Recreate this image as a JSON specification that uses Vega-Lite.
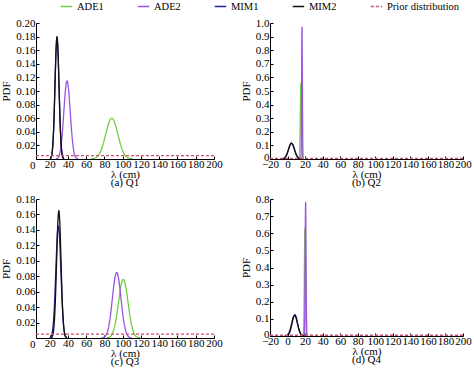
{
"$schema": "https://vega.github.io/schema/vega-lite/v6.json",
"padding": {"left": 0, "top": 0, "right": 0, "bottom": 0},
"spacing": 5,
"config": {
  "font": "Times",
  "view": {"stroke": null},
  "axis": {"labelFont": "Times", "titleFont": "Times", "labelFontSize": 11, "titleFontSize": 11, "titleFontWeight": "normal", "grid": false, "domainColor": "black", "tickColor": "black", "labelColor": "black", "titleColor": "black", "tickSize": -3, "labelFlush": false, "labelOverlap": false},
  "axisX": {"labelPadding": 2, "titlePadding": -1},
  "axisY": {"labelPadding": 4, "titlePadding": 4},
  "title": {"font": "Times", "fontSize": 11, "fontWeight": "normal", "orient": "bottom", "offset": -2, "color": "black"},
  "legend": {"orient": "none", "legendX": 24, "legendY": -23, "direction": "horizontal", "symbolType": "stroke", "symbolSize": 130, "symbolStrokeWidth": 1.5, "labelFont": "Times", "labelFontSize": 10.5, "labelColor": "black", "columnPadding": 30, "labelOffset": 4, "labelLimit": 200}
},
"data": {"values": [
{"p":"a","s":"ADE1","x":64.7,"y":0.0001},{"p":"a","s":"ADE1","x":68.05,"y":0.0007},{"p":"a","s":"ADE1","x":71.4,"y":0.0026},{"p":"a","s":"ADE1","x":74.7,"y":0.0081},{"p":"a","s":"ADE1","x":78.0,"y":0.0195},{"p":"a","s":"ADE1","x":81.35,"y":0.0364},{"p":"a","s":"ADE1","x":84.7,"y":0.053},{"p":"a","s":"ADE1","x":88,"y":0.06},{"p":"a","s":"ADE1","x":91.3,"y":0.053},{"p":"a","s":"ADE1","x":94.65,"y":0.0364},{"p":"a","s":"ADE1","x":98.0,"y":0.0195},{"p":"a","s":"ADE1","x":101.3,"y":0.0081},{"p":"a","s":"ADE1","x":104.6,"y":0.0026},{"p":"a","s":"ADE1","x":107.95,"y":0.0007},{"p":"a","s":"ADE1","x":111.3,"y":0.0001},
{"p":"a","s":"ADE2","x":26.85,"y":0.0003},{"p":"a","s":"ADE2","x":28.59,"y":0.0013},{"p":"a","s":"ADE2","x":30.33,"y":0.005},{"p":"a","s":"ADE2","x":32.06,"y":0.0156},{"p":"a","s":"ADE2","x":33.8,"y":0.0373},{"p":"a","s":"ADE2","x":35.53,"y":0.0697},{"p":"a","s":"ADE2","x":37.27,"y":0.1015},{"p":"a","s":"ADE2","x":39,"y":0.115},{"p":"a","s":"ADE2","x":40.74,"y":0.1015},{"p":"a","s":"ADE2","x":42.47,"y":0.0697},{"p":"a","s":"ADE2","x":44.21,"y":0.0373},{"p":"a","s":"ADE2","x":45.94,"y":0.0156},{"p":"a","s":"ADE2","x":47.68,"y":0.005},{"p":"a","s":"ADE2","x":49.41,"y":0.0013},{"p":"a","s":"ADE2","x":51.15,"y":0.0003},
{"p":"a","s":"MIM1","x":20.3,"y":0.0004},{"p":"a","s":"MIM1","x":21.4,"y":0.002},{"p":"a","s":"MIM1","x":22.5,"y":0.0078},{"p":"a","s":"MIM1","x":23.6,"y":0.0241},{"p":"a","s":"MIM1","x":24.7,"y":0.0578},{"p":"a","s":"MIM1","x":25.8,"y":0.108},{"p":"a","s":"MIM1","x":26.9,"y":0.1571},{"p":"a","s":"MIM1","x":28,"y":0.178},{"p":"a","s":"MIM1","x":29.1,"y":0.1571},{"p":"a","s":"MIM1","x":30.2,"y":0.108},{"p":"a","s":"MIM1","x":31.3,"y":0.0578},{"p":"a","s":"MIM1","x":32.4,"y":0.0241},{"p":"a","s":"MIM1","x":33.5,"y":0.0078},{"p":"a","s":"MIM1","x":34.6,"y":0.002},{"p":"a","s":"MIM1","x":35.7,"y":0.0004},
{"p":"a","s":"MIM2","x":20.3,"y":0.0004},{"p":"a","s":"MIM2","x":21.4,"y":0.002},{"p":"a","s":"MIM2","x":22.5,"y":0.0079},{"p":"a","s":"MIM2","x":23.6,"y":0.0244},{"p":"a","s":"MIM2","x":24.7,"y":0.0584},{"p":"a","s":"MIM2","x":25.8,"y":0.1092},{"p":"a","s":"MIM2","x":26.9,"y":0.1589},{"p":"a","s":"MIM2","x":28,"y":0.18},{"p":"a","s":"MIM2","x":29.1,"y":0.1589},{"p":"a","s":"MIM2","x":30.2,"y":0.1092},{"p":"a","s":"MIM2","x":31.3,"y":0.0584},{"p":"a","s":"MIM2","x":32.4,"y":0.0244},{"p":"a","s":"MIM2","x":33.5,"y":0.0079},{"p":"a","s":"MIM2","x":34.6,"y":0.002},{"p":"a","s":"MIM2","x":35.7,"y":0.0004},
{"p":"a","s":"Prior distribution","x":5,"y":0.005},{"p":"a","s":"Prior distribution","x":200,"y":0.005},
{"p":"b","s":"ADE1","x":12.85,"y":0.0012},{"p":"b","s":"ADE1","x":13.2,"y":0.0062},{"p":"b","s":"ADE1","x":13.55,"y":0.0246},{"p":"b","s":"ADE1","x":13.9,"y":0.0758},{"p":"b","s":"ADE1","x":14.25,"y":0.1818},{"p":"b","s":"ADE1","x":14.6,"y":0.3396},{"p":"b","s":"ADE1","x":14.95,"y":0.4942},{"p":"b","s":"ADE1","x":15.3,"y":0.56},{"p":"b","s":"ADE1","x":15.65,"y":0.4942},{"p":"b","s":"ADE1","x":16.0,"y":0.3396},{"p":"b","s":"ADE1","x":16.35,"y":0.1818},{"p":"b","s":"ADE1","x":16.7,"y":0.0758},{"p":"b","s":"ADE1","x":17.05,"y":0.0246},{"p":"b","s":"ADE1","x":17.4,"y":0.0062},{"p":"b","s":"ADE1","x":17.75,"y":0.0012},
{"p":"b","s":"ADE2","x":15.065,"y":0.0021},{"p":"b","s":"ADE2","x":15.27,"y":0.0108},{"p":"b","s":"ADE2","x":15.475,"y":0.0426},{"p":"b","s":"ADE2","x":15.68,"y":0.1312},{"p":"b","s":"ADE2","x":15.885,"y":0.315},{"p":"b","s":"ADE2","x":16.09,"y":0.5883},{"p":"b","s":"ADE2","x":16.295,"y":0.856},{"p":"b","s":"ADE2","x":16.5,"y":0.97},{"p":"b","s":"ADE2","x":16.705,"y":0.856},{"p":"b","s":"ADE2","x":16.91,"y":0.5883},{"p":"b","s":"ADE2","x":17.115,"y":0.315},{"p":"b","s":"ADE2","x":17.32,"y":0.1312},{"p":"b","s":"ADE2","x":17.525,"y":0.0426},{"p":"b","s":"ADE2","x":17.73,"y":0.0108},{"p":"b","s":"ADE2","x":17.935,"y":0.0021},
{"p":"b","s":"MIM1","x":-7.4,"y":0.0003},{"p":"b","s":"MIM1","x":-5.7,"y":0.0013},{"p":"b","s":"MIM1","x":-4.0,"y":0.005},{"p":"b","s":"MIM1","x":-2.3,"y":0.0156},{"p":"b","s":"MIM1","x":-0.6,"y":0.0373},{"p":"b","s":"MIM1","x":1.1,"y":0.0697},{"p":"b","s":"MIM1","x":2.8,"y":0.1015},{"p":"b","s":"MIM1","x":4.5,"y":0.115},{"p":"b","s":"MIM1","x":6.2,"y":0.1015},{"p":"b","s":"MIM1","x":7.9,"y":0.0697},{"p":"b","s":"MIM1","x":9.6,"y":0.0373},{"p":"b","s":"MIM1","x":11.3,"y":0.0156},{"p":"b","s":"MIM1","x":13.0,"y":0.005},{"p":"b","s":"MIM1","x":14.7,"y":0.0013},{"p":"b","s":"MIM1","x":16.4,"y":0.0003},
{"p":"b","s":"MIM2","x":-7.4,"y":0.0003},{"p":"b","s":"MIM2","x":-5.7,"y":0.0013},{"p":"b","s":"MIM2","x":-4.0,"y":0.0051},{"p":"b","s":"MIM2","x":-2.3,"y":0.0158},{"p":"b","s":"MIM2","x":-0.6,"y":0.038},{"p":"b","s":"MIM2","x":1.1,"y":0.071},{"p":"b","s":"MIM2","x":2.8,"y":0.1033},{"p":"b","s":"MIM2","x":4.5,"y":0.117},{"p":"b","s":"MIM2","x":6.2,"y":0.1033},{"p":"b","s":"MIM2","x":7.9,"y":0.071},{"p":"b","s":"MIM2","x":9.6,"y":0.038},{"p":"b","s":"MIM2","x":11.3,"y":0.0158},{"p":"b","s":"MIM2","x":13.0,"y":0.0051},{"p":"b","s":"MIM2","x":14.7,"y":0.0013},{"p":"b","s":"MIM2","x":16.4,"y":0.0003},
{"p":"b","s":"Prior distribution","x":-20,"y":0.0045},{"p":"b","s":"Prior distribution","x":200,"y":0.0045},
{"p":"c","s":"ADE1","x":82.225,"y":0.0002},{"p":"c","s":"ADE1","x":84.85,"y":0.0008},{"p":"c","s":"ADE1","x":87.475,"y":0.0033},{"p":"c","s":"ADE1","x":90.1,"y":0.0103},{"p":"c","s":"ADE1","x":92.725,"y":0.0247},{"p":"c","s":"ADE1","x":95.35,"y":0.0461},{"p":"c","s":"ADE1","x":97.975,"y":0.0671},{"p":"c","s":"ADE1","x":100.6,"y":0.076},{"p":"c","s":"ADE1","x":103.225,"y":0.0671},{"p":"c","s":"ADE1","x":105.85,"y":0.0461},{"p":"c","s":"ADE1","x":108.475,"y":0.0247},{"p":"c","s":"ADE1","x":111.1,"y":0.0103},{"p":"c","s":"ADE1","x":113.725,"y":0.0033},{"p":"c","s":"ADE1","x":116.35,"y":0.0008},{"p":"c","s":"ADE1","x":118.975,"y":0.0002},
{"p":"c","s":"ADE2","x":76.985,"y":0.0002},{"p":"c","s":"ADE2","x":79.33,"y":0.0009},{"p":"c","s":"ADE2","x":81.675,"y":0.0037},{"p":"c","s":"ADE2","x":84.02,"y":0.0115},{"p":"c","s":"ADE2","x":86.365,"y":0.0276},{"p":"c","s":"ADE2","x":88.71,"y":0.0516},{"p":"c","s":"ADE2","x":91.055,"y":0.075},{"p":"c","s":"ADE2","x":93.4,"y":0.085},{"p":"c","s":"ADE2","x":95.745,"y":0.075},{"p":"c","s":"ADE2","x":98.09,"y":0.0516},{"p":"c","s":"ADE2","x":100.435,"y":0.0276},{"p":"c","s":"ADE2","x":102.78,"y":0.0115},{"p":"c","s":"ADE2","x":105.125,"y":0.0037},{"p":"c","s":"ADE2","x":107.47,"y":0.0009},{"p":"c","s":"ADE2","x":109.815,"y":0.0002},
{"p":"c","s":"MIM1","x":19.875,"y":0.0003},{"p":"c","s":"MIM1","x":21.25,"y":0.0016},{"p":"c","s":"MIM1","x":22.625,"y":0.0064},{"p":"c","s":"MIM1","x":24.0,"y":0.0196},{"p":"c","s":"MIM1","x":25.375,"y":0.0471},{"p":"c","s":"MIM1","x":26.75,"y":0.0879},{"p":"c","s":"MIM1","x":28.125,"y":0.128},{"p":"c","s":"MIM1","x":29.5,"y":0.145},{"p":"c","s":"MIM1","x":30.875,"y":0.128},{"p":"c","s":"MIM1","x":32.25,"y":0.0879},{"p":"c","s":"MIM1","x":33.625,"y":0.0471},{"p":"c","s":"MIM1","x":35.0,"y":0.0196},{"p":"c","s":"MIM1","x":36.375,"y":0.0064},{"p":"c","s":"MIM1","x":37.75,"y":0.0016},{"p":"c","s":"MIM1","x":39.125,"y":0.0003},
{"p":"c","s":"MIM2","x":21.53,"y":0.0004},{"p":"c","s":"MIM2","x":22.74,"y":0.0018},{"p":"c","s":"MIM2","x":23.95,"y":0.0072},{"p":"c","s":"MIM2","x":25.16,"y":0.0223},{"p":"c","s":"MIM2","x":26.37,"y":0.0536},{"p":"c","s":"MIM2","x":27.58,"y":0.1001},{"p":"c","s":"MIM2","x":28.79,"y":0.1456},{"p":"c","s":"MIM2","x":30,"y":0.165},{"p":"c","s":"MIM2","x":31.21,"y":0.1456},{"p":"c","s":"MIM2","x":32.42,"y":0.1001},{"p":"c","s":"MIM2","x":33.63,"y":0.0536},{"p":"c","s":"MIM2","x":34.84,"y":0.0223},{"p":"c","s":"MIM2","x":36.05,"y":0.0072},{"p":"c","s":"MIM2","x":37.26,"y":0.0018},{"p":"c","s":"MIM2","x":38.47,"y":0.0004},
{"p":"c","s":"Prior distribution","x":5,"y":0.005},{"p":"c","s":"Prior distribution","x":200,"y":0.005},
{"p":"d","s":"ADE1","x":17.595,"y":0.0014},{"p":"d","s":"ADE1","x":17.91,"y":0.007},{"p":"d","s":"ADE1","x":18.225,"y":0.0277},{"p":"d","s":"ADE1","x":18.54,"y":0.0852},{"p":"d","s":"ADE1","x":18.855,"y":0.2046},{"p":"d","s":"ADE1","x":19.17,"y":0.3821},{"p":"d","s":"ADE1","x":19.485,"y":0.556},{"p":"d","s":"ADE1","x":19.8,"y":0.63},{"p":"d","s":"ADE1","x":20.115,"y":0.556},{"p":"d","s":"ADE1","x":20.43,"y":0.3821},{"p":"d","s":"ADE1","x":20.745,"y":0.2046},{"p":"d","s":"ADE1","x":21.06,"y":0.0852},{"p":"d","s":"ADE1","x":21.375,"y":0.0277},{"p":"d","s":"ADE1","x":21.69,"y":0.007},{"p":"d","s":"ADE1","x":22.005,"y":0.0014},
{"p":"d","s":"ADE2","x":18.815,"y":0.0017},{"p":"d","s":"ADE2","x":19.07,"y":0.0087},{"p":"d","s":"ADE2","x":19.325,"y":0.0342},{"p":"d","s":"ADE2","x":19.58,"y":0.1055},{"p":"d","s":"ADE2","x":19.835,"y":0.2533},{"p":"d","s":"ADE2","x":20.09,"y":0.4731},{"p":"d","s":"ADE2","x":20.345,"y":0.6884},{"p":"d","s":"ADE2","x":20.6,"y":0.78},{"p":"d","s":"ADE2","x":20.855,"y":0.6884},{"p":"d","s":"ADE2","x":21.11,"y":0.4731},{"p":"d","s":"ADE2","x":21.365,"y":0.2533},{"p":"d","s":"ADE2","x":21.62,"y":0.1055},{"p":"d","s":"ADE2","x":21.875,"y":0.0342},{"p":"d","s":"ADE2","x":22.13,"y":0.0087},{"p":"d","s":"ADE2","x":22.385,"y":0.0017},
{"p":"d","s":"MIM1","x":-2.55,"y":0.0003},{"p":"d","s":"MIM1","x":-1.0,"y":0.0014},{"p":"d","s":"MIM1","x":0.55,"y":0.0055},{"p":"d","s":"MIM1","x":2.1,"y":0.0169},{"p":"d","s":"MIM1","x":3.65,"y":0.0406},{"p":"d","s":"MIM1","x":5.2,"y":0.0758},{"p":"d","s":"MIM1","x":6.75,"y":0.1103},{"p":"d","s":"MIM1","x":8.3,"y":0.125},{"p":"d","s":"MIM1","x":9.85,"y":0.1103},{"p":"d","s":"MIM1","x":11.4,"y":0.0758},{"p":"d","s":"MIM1","x":12.95,"y":0.0406},{"p":"d","s":"MIM1","x":14.5,"y":0.0169},{"p":"d","s":"MIM1","x":16.05,"y":0.0055},{"p":"d","s":"MIM1","x":17.6,"y":0.0014},{"p":"d","s":"MIM1","x":19.15,"y":0.0003},
{"p":"d","s":"MIM2","x":-3.55,"y":0.0003},{"p":"d","s":"MIM2","x":-1.9,"y":0.0013},{"p":"d","s":"MIM2","x":-0.25,"y":0.0053},{"p":"d","s":"MIM2","x":1.4,"y":0.0162},{"p":"d","s":"MIM2","x":3.05,"y":0.039},{"p":"d","s":"MIM2","x":4.7,"y":0.0728},{"p":"d","s":"MIM2","x":6.35,"y":0.1059},{"p":"d","s":"MIM2","x":8,"y":0.12},{"p":"d","s":"MIM2","x":9.65,"y":0.1059},{"p":"d","s":"MIM2","x":11.3,"y":0.0728},{"p":"d","s":"MIM2","x":12.95,"y":0.039},{"p":"d","s":"MIM2","x":14.6,"y":0.0162},{"p":"d","s":"MIM2","x":16.25,"y":0.0053},{"p":"d","s":"MIM2","x":17.9,"y":0.0013},{"p":"d","s":"MIM2","x":19.55,"y":0.0003},
{"p":"d","s":"Prior distribution","x":-20,"y":0.0045},{"p":"d","s":"Prior distribution","x":200,"y":0.0045}
]},
"vconcat": [
 {"hconcat": [
  {"width": 178, "height": 136, "title": "(a) Q1",
   "transform": [{"filter": "datum.p == 'a'"}],
   "mark": {"type": "line", "strokeWidth": 1.3, "interpolate": "monotone", "clip": true},
   "encoding": {
    "x": {"field": "x", "type": "quantitative", "scale": {"domain": [5, 200], "nice": false, "zero": false}, "axis": {"title": "λ (cm)", "values": [20,40,60,80,100,120,140,160,180,200]}},
    "y": {"field": "y", "type": "quantitative", "scale": {"domain": [0, 0.2], "nice": false}, "axis": {"title": "PDF", "values": [0,0.02,0.04,0.06,0.08,0.1,0.12,0.14,0.16,0.18,0.2], "labelExpr": "datum.value == 0 ? '0' : format(datum.value, '.2f')", "labelOffset": {"condition": {"test": "datum.value == 0", "value": 6}, "value": 0}}},
    "color": {"field": "s", "type": "nominal", "title": null, "scale": {"domain": ["ADE1","ADE2","MIM1","MIM2","Prior distribution"], "range": ["#6fcf3f","#9a55e0","#22229a","#111111","#d0506e"]}},
    "strokeDash": {"field": "s", "type": "nominal", "title": null, "scale": {"domain": ["ADE1","ADE2","MIM1","MIM2","Prior distribution"], "range": [[1,0],[1,0],[1,0],[1,0],[3,2]]}}
   }},
  {"width": 193, "height": 136, "title": "(b) Q2",
   "transform": [{"filter": "datum.p == 'b'"}],
   "mark": {"type": "line", "strokeWidth": 1.3, "interpolate": "monotone", "clip": true},
   "encoding": {
    "x": {"field": "x", "type": "quantitative", "scale": {"domain": [-20, 200], "nice": false, "zero": false}, "axis": {"title": "λ (cm)", "values": [-20,0,20,40,60,80,100,120,140,160,180,200]}},
    "y": {"field": "y", "type": "quantitative", "scale": {"domain": [0, 1], "nice": false}, "axis": {"title": "PDF", "values": [0,0.1,0.2,0.3,0.4,0.5,0.6,0.7,0.8,0.9,1], "labelExpr": "datum.value == 0 ? '0' : format(datum.value, '.1f')", "labelOffset": {"condition": {"test": "datum.value == 0", "value": -2}, "value": 0}}},
    "color": {"field": "s", "type": "nominal", "title": null, "scale": {"domain": ["ADE1","ADE2","MIM1","MIM2","Prior distribution"], "range": ["#6fcf3f","#9a55e0","#22229a","#111111","#d0506e"]}},
    "strokeDash": {"field": "s", "type": "nominal", "title": null, "scale": {"domain": ["ADE1","ADE2","MIM1","MIM2","Prior distribution"], "range": [[1,0],[1,0],[1,0],[1,0],[3,2]]}}
   }}
 ], "spacing": 17},
 {"hconcat": [
  {"width": 178, "height": 139, "title": "(c) Q3",
   "transform": [{"filter": "datum.p == 'c'"}],
   "mark": {"type": "line", "strokeWidth": 1.3, "interpolate": "monotone", "clip": true},
   "encoding": {
    "x": {"field": "x", "type": "quantitative", "scale": {"domain": [5, 200], "nice": false, "zero": false}, "axis": {"title": "λ (cm)", "values": [20,40,60,80,100,120,140,160,180,200]}},
    "y": {"field": "y", "type": "quantitative", "scale": {"domain": [0, 0.18], "nice": false}, "axis": {"title": "PDF", "values": [0,0.02,0.04,0.06,0.08,0.1,0.12,0.14,0.16,0.18], "labelExpr": "datum.value == 0 ? '0' : format(datum.value, '.2f')", "labelOffset": {"condition": {"test": "datum.value == 0", "value": 6}, "value": 0}}},
    "color": {"field": "s", "type": "nominal", "title": null, "scale": {"domain": ["ADE1","ADE2","MIM1","MIM2","Prior distribution"], "range": ["#6fcf3f","#9a55e0","#22229a","#111111","#d0506e"]}},
    "strokeDash": {"field": "s", "type": "nominal", "title": null, "scale": {"domain": ["ADE1","ADE2","MIM1","MIM2","Prior distribution"], "range": [[1,0],[1,0],[1,0],[1,0],[3,2]]}}
   }},
  {"width": 193, "height": 137, "title": "(d) Q4",
   "transform": [{"filter": "datum.p == 'd'"}],
   "mark": {"type": "line", "strokeWidth": 1.3, "interpolate": "monotone", "clip": true},
   "encoding": {
    "x": {"field": "x", "type": "quantitative", "scale": {"domain": [-20, 200], "nice": false, "zero": false}, "axis": {"title": "λ (cm)", "values": [-20,0,20,40,60,80,100,120,140,160,180,200]}},
    "y": {"field": "y", "type": "quantitative", "scale": {"domain": [0, 0.8], "nice": false}, "axis": {"title": "PDF", "values": [0,0.1,0.2,0.3,0.4,0.5,0.6,0.7,0.8], "labelExpr": "datum.value == 0 ? '0' : format(datum.value, '.1f')", "labelOffset": {"condition": {"test": "datum.value == 0", "value": -2}, "value": 0}}},
    "color": {"field": "s", "type": "nominal", "title": null, "scale": {"domain": ["ADE1","ADE2","MIM1","MIM2","Prior distribution"], "range": ["#6fcf3f","#9a55e0","#22229a","#111111","#d0506e"]}},
    "strokeDash": {"field": "s", "type": "nominal", "title": null, "scale": {"domain": ["ADE1","ADE2","MIM1","MIM2","Prior distribution"], "range": [[1,0],[1,0],[1,0],[1,0],[3,2]]}}
   }}
 ], "spacing": 17}
]
}
